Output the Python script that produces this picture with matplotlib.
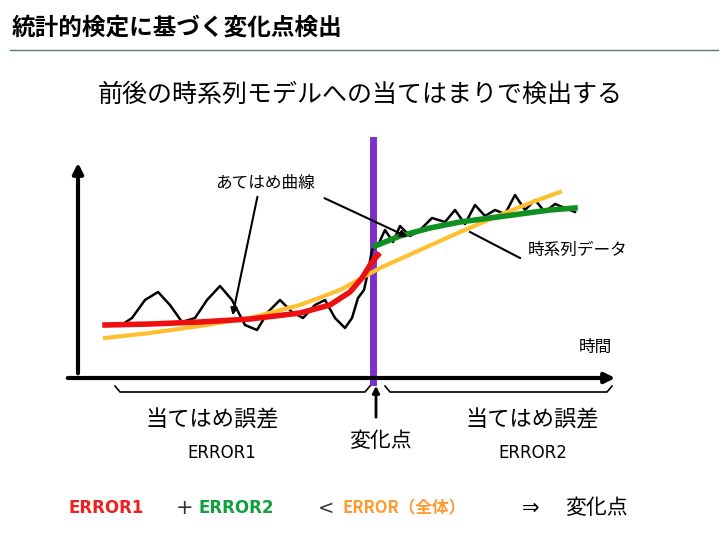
import matplotlib
matplotlib.use("Agg")
import matplotlib.pyplot as plt

JP = "Noto Sans CJK JP"
series_x = [105,120,132,145,158,170,182,195,207,220,232,245,257,268,280,292,303,315,325,335,345,352,358,364,368,372,378,385,393,400,410,420,432,445,455,465,475,485,495,505,515,525,535,545,555,565,575]
series_y = [325,326,318,300,292,305,322,318,300,286,300,325,330,312,300,312,318,305,300,318,328,318,298,290,272,250,245,230,242,226,236,230,218,222,210,224,205,216,210,214,195,210,200,212,204,208,212]
red_x = [105,150,200,250,300,330,350,362,372,378]
red_y = [325,324,322,319,313,305,292,278,262,255]
green_x = [375,400,430,460,490,520,550,575]
green_y = [246,236,228,222,218,214,210,208]
yellow_x = [105,150,200,250,300,340,380,420,460,500,530,560]
yellow_y = [338,333,326,318,305,290,268,250,232,215,203,192]

fig = plt.figure(figsize=(7.28,5.46), dpi=100)
ax = fig.add_axes([0,0,1,1])
ax.set_xlim(0,728); ax.set_ylim(546,0); ax.axis("off")

ax.text(12,28,"統計的検定に基づく変化点検出",fontfamily=JP,fontsize=17,fontweight="bold",va="center")
ax.plot([10,718],[50,50],color="#5a7a7a",lw=1)
ax.text(360,95,"前後の時系列モデルへの当てはまりで検出する",fontfamily=JP,fontsize=18,ha="center",va="center")

ax.annotate("",xy=(78,160),xytext=(78,376),arrowprops=dict(arrowstyle="-|>",color="black",lw=3,mutation_scale=15))
ax.annotate("",xy=(618,378),xytext=(65,378),arrowprops=dict(arrowstyle="-|>",color="black",lw=3,mutation_scale=15))
ax.plot([373,373],[140,382],color="#7b2fd0",lw=5)

ax.plot(series_x,series_y,color="black",lw=1.8)
ax.plot(yellow_x,yellow_y,color="#ffc030",lw=3)
ax.plot(red_x,red_y,color="#ee1010",lw=4)
ax.plot(green_x,green_y,color="#109020",lw=4)

ax.text(265,183,"あてはめ曲線",fontfamily=JP,fontsize=12,ha="center",va="center")
ax.annotate("",xy=(232,318),xytext=(258,194),arrowprops=dict(arrowstyle="-|>",color="black",lw=1.5))
ax.annotate("",xy=(410,238),xytext=(322,197),arrowprops=dict(arrowstyle="-|>",color="black",lw=1.5))
ax.text(578,250,"時系列データ",fontfamily=JP,fontsize=12,ha="center",va="center")
ax.plot([520,470],[258,232],color="black",lw=1.5)
ax.text(595,347,"時間",fontfamily=JP,fontsize=12,ha="center",va="center")

for a,b in [(115,370),(385,612)]:
    ax.plot([a,a+5,b-5,b],[386,392,392,386],color="black",lw=1.2)
ax.text(212,420,"当てはめ誤差",fontfamily=JP,fontsize=16,ha="center",va="center")
ax.text(222,453,"ERROR1",fontsize=12,ha="center",va="center")
ax.text(532,420,"当てはめ誤差",fontfamily=JP,fontsize=16,ha="center",va="center")
ax.text(533,453,"ERROR2",fontsize=12,ha="center",va="center")
ax.text(380,441,"変化点",fontfamily=JP,fontsize=15,ha="center",va="center")
ax.annotate("",xy=(376,383),xytext=(376,420),arrowprops=dict(arrowstyle="-|>",color="black",lw=2))

y=508
ax.text(68,y,"ERROR1",color="#ee2020",fontsize=12,fontweight="bold",va="center")
ax.text(176,y,"+",color="#333333",fontsize=15,va="center")
ax.text(198,y,"ERROR2",color="#10a040",fontsize=12,fontweight="bold",va="center")
ax.text(318,y,"<",color="#333333",fontsize=14,va="center")
ax.text(342,y,"ERROR（全体）",color="#ff9a30",fontfamily=JP,fontsize=12,fontweight="bold",va="center")
ax.text(522,y,"⇒",color="black",fontsize=15,va="center")
ax.text(565,y,"変化点",fontfamily=JP,fontsize=15,va="center")

fig.savefig("out.png",dpi=100)
